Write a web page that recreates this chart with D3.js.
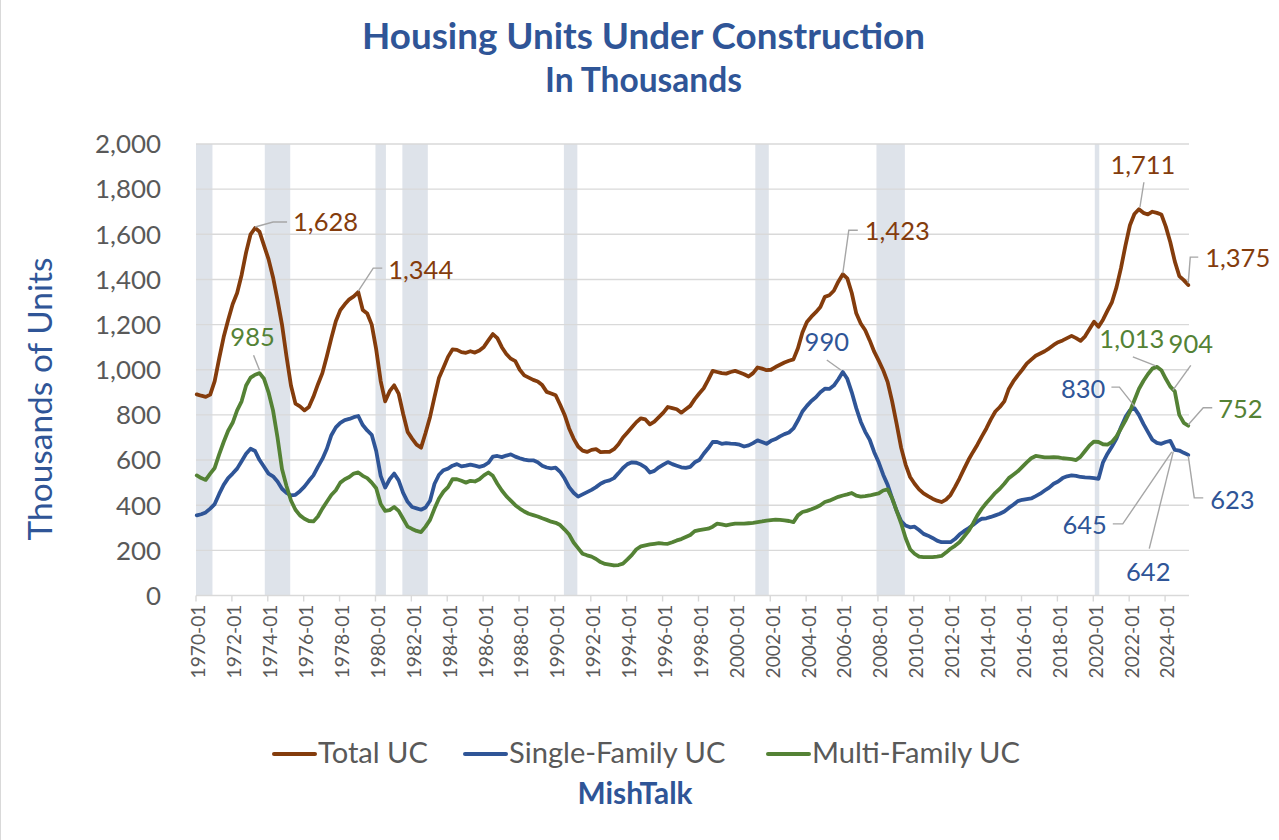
<!DOCTYPE html>
<html>
<head>
<meta charset="utf-8">
<script src="https://cdn.jsdelivr.net/npm/d3@7"></script>
<style>
  body { margin: 0; background: #fff; }
  svg { display: block; }
  text { font-family: Lato, "Open Sans", sans-serif; }
</style>
</head>
<body>
<script>
//quarterly readings, Jan/Apr/Jul/Oct of every year from 1970-01 to 2025-04 (thousands)
var startYear = 1970, stepMonths = 3, monthCount = 664;

var totalUC = [
  891, 885, 880, 890,   950, 1050, 1145, 1220,     //1970-71
  1290, 1340, 1420, 1520,   1600, 1628, 1611, 1550, //1972-73
  1490, 1410, 1310, 1200,   1060, 930, 850, 838,   //1974-75
  820, 835, 880, 935,   985, 1060, 1140, 1215,     //1976-77
  1264, 1290, 1312, 1325,   1344, 1265, 1249, 1200, //1978-79
  1090, 950, 860, 905,   931, 894, 805, 725,       //1980-81
  695, 668, 655, 720,   791, 880, 965, 1010,       //1982-83
  1057, 1090, 1088, 1078,   1075, 1082, 1076, 1085, //1984-85
  1101, 1130, 1158, 1140,   1100, 1070, 1049, 1038, //1986-87
  1000, 975, 965, 955,   948, 932, 902, 895,       //1988-89
  887, 845, 800, 740,   695, 660, 642, 636,       //1990-91
  645, 648, 635, 636,   636, 648, 670, 700,       //1992-93
  722, 745, 768, 785,   780, 758, 770, 790,       //1994-95
  810, 835, 830, 825,   810, 825, 840, 870,       //1996-97
  895, 918, 955, 995,   990, 985, 983, 990,       //1998-99
  995, 988, 980, 970,   985, 1010, 1005, 998,     //2000-01
  1000, 1012, 1022, 1032,   1040, 1046, 1095, 1165, //2002-03
  1212, 1235, 1255, 1278,   1323, 1330, 1350, 1390, //2004-05
  1423, 1405, 1340, 1250,   1205, 1175, 1130, 1080, //2006-07
  1040, 998, 945, 860,   760, 655, 580, 525,       //2008-09
  495, 470, 452, 440,   429, 420, 414, 425,       //2010-11
  445, 480, 518, 560,   600, 635, 668, 705,       //2012-13
  740, 780, 815, 835,   860, 915, 948, 975,       //2014-15
  1000, 1027, 1045, 1062,   1072, 1082, 1095, 1110, //2016-17
  1122, 1130, 1140, 1150,   1140, 1128, 1148, 1180, //2018-19
  1213, 1190, 1222, 1262,   1300, 1365, 1450, 1550, //2020-21
  1640, 1690, 1711, 1695,   1688, 1700, 1695, 1688, //2022-23
  1634, 1565, 1480, 1415,   1397, 1375             //2024-25
];

var singleUC = [
  355, 360, 368, 385,   405, 450, 490, 520,
  540, 562, 595, 628,   650, 640, 600, 570,
  540, 528, 505, 473,   455, 443, 446, 462,
  482, 508, 532, 570,   605, 650, 710, 745,
  765, 777, 782, 790,   795, 755, 731, 712,
  640, 530, 478, 515,   540, 510, 455, 415,
  392, 386, 380, 390,   420, 495, 535, 555,
  562, 575, 582, 572,   575, 580, 575, 570,
  575, 588, 615, 618,   613, 620, 625, 615,
  608, 602, 599, 599,   590, 575, 567, 563,
  566, 548, 518, 480,   455, 438, 448, 458,
  468, 480, 495, 505,   510, 520, 542, 565,
  582, 590, 588, 580,   568, 545, 552, 568,
  580, 591, 582, 575,   568, 565, 570, 590,
  600, 628, 652, 680,   680, 672, 675, 673,
  672, 668, 660, 665,   675, 687, 680, 672,
  685, 693, 705, 715,   722, 740, 775, 815,
  840, 862, 878, 900,   916, 915, 930, 958,
  990, 960, 900, 830,   770, 725, 690, 635,
  590, 535, 490, 430,   375, 330, 310, 302,
  305, 290, 273, 265,   255, 243, 236, 236,
  236, 250, 270, 285,   298, 312, 328, 340,
  342, 348, 355, 362,   372, 388, 402, 418,
  424, 427, 430, 440,   451, 465, 478, 495,
  505, 520, 528, 532,   530, 525, 523, 522,
  520, 517, 590, 628,   660, 695, 745, 790,
  820, 830, 800, 760,   725, 690, 676, 672,
  680, 685, 645, 642,   632, 623
];

var multiUC = [
  532, 520, 512, 540,   565, 625, 680, 730,
  765, 820, 860, 930,   965, 978, 985, 960,
  900, 820, 700, 560,   485, 421, 380, 355,
  340, 330, 328, 350,   385, 415, 445, 466,
  500, 515, 525, 540,   545, 530, 520, 500,
  475, 405, 375, 378,   392, 375, 340, 305,
  295, 286, 281, 305,   335, 385, 430, 460,
  480, 515, 515, 508,   500, 508, 505, 515,
  532, 545, 530, 495,   465, 440, 420, 400,
  385, 372, 362, 356,   350, 342, 335, 327,
  322, 312, 292, 270,   235, 210, 185, 178,
  172, 162, 148, 140,   137, 133, 135, 141,
  160, 180, 205, 218,   222, 226, 229, 232,
  230, 229, 236, 244,   250, 259, 268, 285,
  290, 293, 296, 305,   318, 315, 311, 315,
  318, 318, 318, 320,   322, 325, 328, 332,
  334, 336, 335, 333,   330, 325, 355, 370,
  375, 382, 390, 400,   414, 420, 429, 437,
  443, 448, 454, 442,   438, 440, 443, 448,
  452, 465, 470, 430,   375, 320, 255, 205,
  185, 172, 170, 170,   170, 172, 175, 190,
  207, 220, 236, 260,   285, 318, 355, 385,
  410, 432, 455, 473,   495, 520, 535, 550,
  570, 590, 608, 618,   615, 612, 612, 613,
  612, 608, 606, 604,   600, 615, 640, 665,
  682, 680, 670, 668,   680, 705, 740, 775,
  815, 865, 915, 950,   980, 1005, 1013, 998,
  960, 925, 904, 800,   765, 752
];

var seriesNames = ["Total UC", "Single-Family UC", "Multi-Family UC"];
var seriesColors = ["#843c0c", "#2f5597", "#548235"];

var yTicks = [0, 200, 400, 600, 800, 1000, 1200, 1400, 1600, 1800, 2000];
var xTickLabels = ["1970-01", "1972-01", "1974-01", "1976-01", "1978-01", "1980-01", "1982-01",
  "1984-01", "1986-01", "1988-01", "1990-01", "1992-01", "1994-01", "1996-01", "1998-01",
  "2000-01", "2002-01", "2004-01", "2006-01", "2008-01", "2010-01", "2012-01", "2014-01",
  "2016-01", "2018-01", "2020-01", "2022-01", "2024-01"];

//NBER recessions (first month, last month)
var recessions = [["1969-12", "1970-11"], ["1973-11", "1975-03"], ["1980-01", "1980-07"],
  ["1981-07", "1982-11"], ["1990-07", "1991-03"], ["2001-03", "2001-11"],
  ["2007-12", "2009-06"], ["2020-02", "2020-04"]];

//labelled points: series index, month
var callouts = [
  {text: "1,628", s: 0, month: "1973-04"},
  {text: "1,344", s: 0, month: "1979-01"},
  {text: "985",   s: 2, month: "1973-07"},
  {text: "1,423", s: 0, month: "2006-01"},
  {text: "990",   s: 1, month: "2006-01"},
  {text: "1,711", s: 0, month: "2022-07"},
  {text: "1,375", s: 0, month: "2025-04"},
  {text: "1,013", s: 2, month: "2023-07"},
  {text: "904",   s: 2, month: "2024-07"},
  {text: "752",   s: 2, month: "2025-04"},
  {text: "830",   s: 1, month: "2022-04"},
  {text: "645",   s: 1, month: "2024-07"},
  {text: "642",   s: 1, month: "2024-10"},
  {text: "623",   s: 1, month: "2025-04"}
];

//leader line bends and label offsets, relative to the labelled point (layout only)
var calloutLayout = [
  {leader: [[0, -1], [18, -6], [32, -6]], label: [38, -6], anchor: "start"},
  {leader: [[0, -1], [15, -24], [24, -24]], label: [30, -22], anchor: "start"},
  {leader: [[0, -3], [-6, -18]], label: [-7, -36], anchor: "middle"},
  {leader: [[0, -1], [6, -44], [15, -44]], label: [22, -43], anchor: "start"},
  {leader: [[-2, -2], [-16, -12]], label: [-16, -30], anchor: "middle"},
  {leader: [[1, -2], [5, -27]], label: [4, -44], anchor: "middle"},
  {leader: [[0, -2], [2, -28], [10, -28]], label: [17, -27], anchor: "start"},
  {leader: [[-1, -1], [-24, -10]], label: [-25, -28], anchor: "middle"},
  {leader: [[-2, -1], [16, -26]], label: [16, -48], anchor: "middle"},
  {leader: [[0, -1], [15, -18], [24, -18]], label: [30, -17], anchor: "start"},
  {leader: [[0, -2], [-15, -21], [-23, -21]], label: [-29, -19], anchor: "end"},
  {leader: [[-3, 2], [-52, 74], [-62, 74]], label: [-68, 75], anchor: "end"},
  {leader: [[-6, 1], [-30, 98]], label: [-31, 121], anchor: "middle"},
  {leader: [[0, 1], [6, 43], [15, 43]], label: [22, 45], anchor: "start"}
];

var seriesData = [totalUC, singleUC, multiUC];

var width = 1279, height = 840;
var plot = {left: 196, right: 1189, top: 144, bottom: 595.5};
var titleBlue = "#2f5597", labelGrey = "#595959", gridGrey = "#d9d9d9";

function monthIndex(s){
  var p = s.split("-");
  return (+p[0] - startYear) * 12 + (+p[1] - 1);
}

var svg = d3.select("body").append("svg")
  .attr("width", width)
  .attr("height", height);

//font size that makes a string a given width (fonts differ from the original)
function fitSize(str, w, weight){
  var probe = svg.append("text").attr("font-size", 100).attr("font-weight", weight || 400).text(str);
  var len = probe.node().getComputedTextLength();
  probe.remove();
  return 100 * w / len;
}

var x = d3.scaleLinear().domain([0, monthCount]).range([plot.left, plot.right]);
var y = d3.scaleLinear().domain([0, 2000]).range([plot.bottom, plot.top]);

//chart border edge
svg.append("line").attr("x1", 0.5).attr("x2", 0.5).attr("y1", 0).attr("y2", height)
  .attr("stroke", gridGrey);

//recession bands
svg.append("g").selectAll("rect")
  .data(recessions)
  .enter().append("rect")
  .attr("x", function(d){ return x(Math.max(0, monthIndex(d[0]))); })
  .attr("width", function(d){ return x(monthIndex(d[1]) + 1) - x(Math.max(0, monthIndex(d[0]))); })
  .attr("y", plot.top)
  .attr("height", plot.bottom - plot.top)
  .attr("fill", "#dee3ea");

//gridlines
svg.append("g").selectAll("line")
  .data(yTicks.slice(1))
  .enter().append("line")
  .attr("x1", plot.left).attr("x2", plot.right)
  .attr("y1", function(d){ return y(d); })
  .attr("y2", function(d){ return y(d); })
  .attr("stroke", gridGrey).attr("stroke-width", 1.4);

//y axis labels
var yFont = fitSize("2,000", 66);
svg.append("g").selectAll("text")
  .data(yTicks)
  .enter().append("text")
  .attr("x", 161)
  .attr("y", function(d){ return y(d); })
  .attr("dy", "0.36em")
  .attr("text-anchor", "end")
  .attr("font-size", yFont)
  .attr("fill", labelGrey)
  .text(function(d){ return d3.format(",")(d); });

//x axis line, ticks and labels
svg.append("line")
  .attr("x1", plot.left).attr("x2", plot.right)
  .attr("y1", plot.bottom).attr("y2", plot.bottom)
  .attr("stroke", gridGrey).attr("stroke-width", 1.4);

var xFont = fitSize("1970-01", 74);
var xt = svg.append("g").selectAll("g")
  .data(xTickLabels)
  .enter().append("g");
xt.append("line")
  .attr("x1", function(d){ return x(monthIndex(d)); })
  .attr("x2", function(d){ return x(monthIndex(d)); })
  .attr("y1", plot.bottom).attr("y2", plot.bottom + 6)
  .attr("stroke", gridGrey).attr("stroke-width", 1.4);
xt.append("text")
  .attr("transform", function(d){ return "translate(" + (x(monthIndex(d)) + 2.5) + "," + (plot.bottom + 9) + ") rotate(-90)"; })
  .attr("dy", "0.36em")
  .attr("text-anchor", "end")
  .attr("font-size", xFont)
  .attr("fill", labelGrey)
  .text(function(d){ return d; });

//series lines
var line = d3.line()
  .x(function(d, i){ return x(i * stepMonths + 0.5); })
  .y(function(d){ return y(d); });

svg.append("g").selectAll("path")
  .data(seriesData)
  .enter().append("path")
  .attr("d", line)
  .attr("fill", "none")
  .attr("stroke", function(d, i){ return seriesColors[i]; })
  .attr("stroke-width", 3.8)
  .attr("stroke-linejoin", "round")
  .attr("stroke-linecap", "round");

//callouts
var cFont = fitSize("1,628", 65);
callouts.forEach(function(c, k){
  var lay = calloutLayout[k];
  var m = monthIndex(c.month);
  var px = x(m + 0.5), py = y(seriesData[c.s][m / stepMonths]);
  svg.append("polyline")
    .attr("points", lay.leader.map(function(p){ return (px + p[0]) + "," + (py + p[1]); }).join(" "))
    .attr("fill", "none")
    .attr("stroke", "#a6a6a6")
    .attr("stroke-width", 1.4);
  svg.append("text")
    .attr("x", px + lay.label[0])
    .attr("y", py + lay.label[1])
    .attr("dy", "0.36em")
    .attr("text-anchor", lay.anchor)
    .attr("font-size", cFont)
    .attr("fill", seriesColors[c.s])
    .text(c.text);
});

//titles
svg.append("text")
  .attr("x", 643.5).attr("y", 49)
  .attr("text-anchor", "middle")
  .attr("font-weight", 700)
  .attr("font-size", fitSize("Housing Units Under Construction", 563, 700))
  .attr("fill", titleBlue)
  .text("Housing Units Under Construction");

svg.append("text")
  .attr("x", 643.5).attr("y", 92)
  .attr("text-anchor", "middle")
  .attr("font-weight", 700)
  .attr("font-size", fitSize("In Thousands", 197, 700))
  .attr("fill", titleBlue)
  .text("In Thousands");

svg.append("text")
  .attr("transform", "translate(52,399) rotate(-90)")
  .attr("text-anchor", "middle")
  .attr("font-size", fitSize("Thousands of Units", 283))
  .attr("fill", titleBlue)
  .text("Thousands of Units");

//legend
var legendX = [274, 465, 768];
var legend = svg.append("g").selectAll("g")
  .data(seriesNames)
  .enter().append("g")
  .attr("transform", function(d, i){ return "translate(" + legendX[i] + ",754)"; });
legend.append("line")
  .attr("x1", 0).attr("x2", 41)
  .attr("stroke", function(d, i){ return seriesColors[i]; })
  .attr("stroke-width", 4)
  .attr("stroke-linecap", "round");
legend.append("text")
  .attr("x", 44)
  .attr("y", 9)
  .attr("font-size", fitSize("Total UC", 110))
  .attr("fill", labelGrey)
  .text(function(d){ return d; });

svg.append("text")
  .attr("x", 635).attr("y", 804)
  .attr("text-anchor", "middle")
  .attr("font-weight", 700)
  .attr("font-size", fitSize("MishTalk", 115, 700))
  .attr("fill", titleBlue)
  .text("MishTalk");
</script>
</body>
</html>
